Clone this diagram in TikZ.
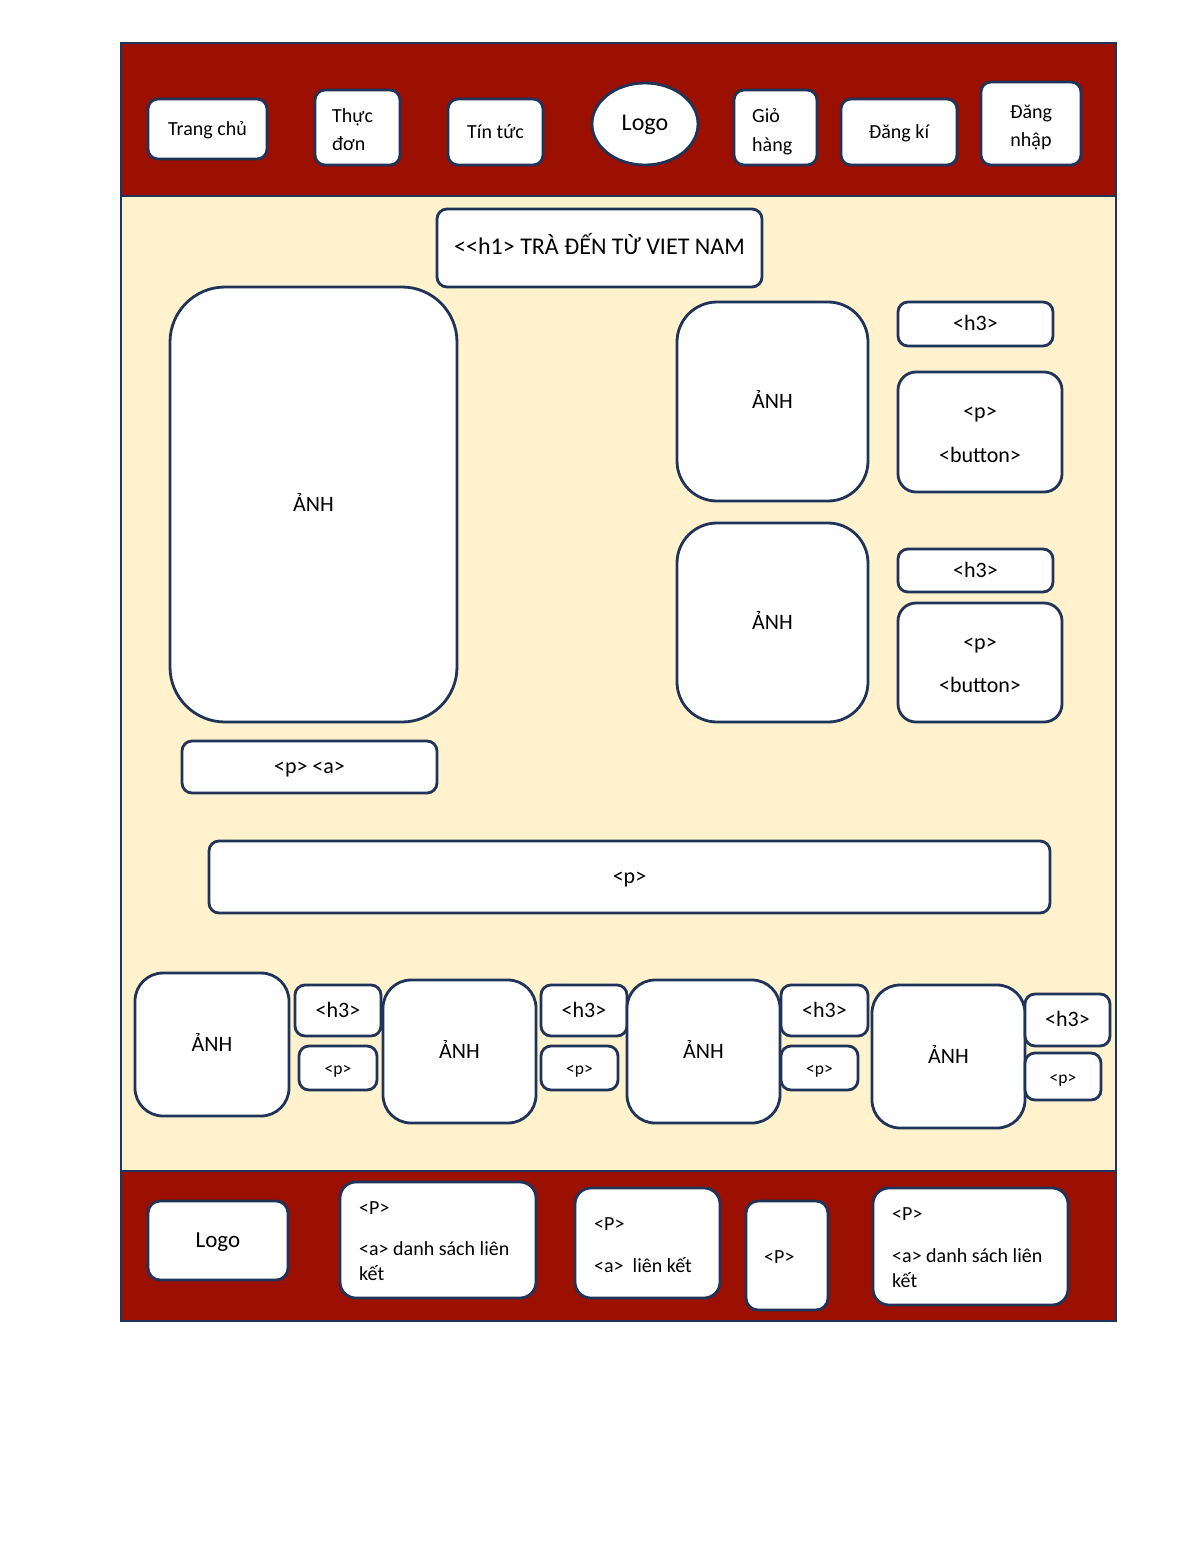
\documentclass[tikz,border=0pt]{standalone}
\usepackage{fontspec}
\setmainfont{Carlito}
\usetikzlibrary{shapes.geometric}
\definecolor{navy}{HTML}{1F3458}
\definecolor{maroon}{HTML}{9B1000}
\definecolor{cream}{HTML}{FFF2CC}
\tikzset{
  box/.style={draw=navy, line width=2.8pt, fill=white, rounded corners=10pt, inner sep=0pt, align=center, text height=2.9ex, text depth=0pt},
  img/.style={box, rounded corners=40pt, font=\fontsize{22}{26}\selectfont},
  nav/.style={box, font=\fontsize{20}{28}\selectfont},
  tag/.style={box, font=\fontsize{22}{26}\selectfont},
  small/.style={box, font=\fontsize{17.5}{20}\selectfont},
  foot/.style={box, rounded corners=16pt, font=\fontsize{20}{25}\selectfont},
  line/.style={inner sep=0pt, anchor=mid west, yshift=-5pt},
  cline/.style={inner sep=0pt, anchor=mid, yshift=-5pt},
}
\begin{document}
\begin{tikzpicture}[x=1pt,y=-1pt]
\useasboundingbox (0,0) rectangle (1200,1553);
% bands
\draw[navy, line width=2.5pt, fill=maroon] (121,43) rectangle (1116,196);
\draw[navy, line width=2.5pt, fill=cream] (121,196) rectangle (1116,1171);
\draw[navy, line width=2.5pt, fill=maroon] (121,1171) rectangle (1116,1321);
% header
\node[nav, minimum width=119pt, minimum height=60pt] (home) at (207.5,129) {Trang chủ};
\node[nav, minimum width=85pt, minimum height=75pt] (menu) at (357.5,127.5) {};
\node[line, font=\fontsize{20}{24}\selectfont] (menu1) at (332,115) {Thực};
\node[line, font=\fontsize{20}{24}\selectfont] (menu2) at (332,143) {đơn};
\node[nav, minimum width=95pt, minimum height=66pt] (news) at (495.5,132) {Tín tức};
\node[draw=navy, line width=2.8pt, fill=white, ellipse, minimum width=106pt, minimum height=82pt, inner sep=0pt, text height=2.9ex, text depth=0pt, font=\fontsize{24}{26}\selectfont] (logo) at (645,124) {Logo};
\node[nav, minimum width=83pt, minimum height=75pt] (cart) at (775.5,127.5) {};
\node[line, font=\fontsize{20}{24}\selectfont] (cart1) at (752,115) {Giỏ};
\node[line, font=\fontsize{20}{24}\selectfont] (cart2) at (752,144) {hàng};
\node[nav, minimum width=116pt, minimum height=66pt] (reg) at (899,132) {Đăng kí};
\node[nav, minimum width=100pt, minimum height=83pt] (login) at (1031,123.5) {};
\node[cline, font=\fontsize{20}{24}\selectfont] (login1) at (1031,111) {Đăng};
\node[cline, font=\fontsize{20}{24}\selectfont] (login2) at (1031,139) {nhập};
% body
\node[box, minimum width=325pt, minimum height=78pt, font=\fontsize{24}{28}\selectfont] (h1) at (599.5,248) {<{}<h1> TRÀ ĐẾN TỪ VIET NAM};
\node[img, rounded corners=55pt, minimum width=287pt, minimum height=435pt] (bigimg) at (313.5,504.5) {ẢNH};
\node[tag, minimum width=255pt, minimum height=52pt] (pa) at (309.5,767) {<p> <a>};
\node[img, minimum width=191pt, minimum height=199pt] (img1) at (772.5,401.5) {ẢNH};
\node[tag, minimum width=155pt, minimum height=44pt] (h3a) at (975.5,324) {<h3>};
\node[tag, rounded corners=18pt, minimum width=164pt, minimum height=120pt] (pb1) at (980,432) {};
\node[cline, font=\fontsize{22}{26}\selectfont] (pb1a) at (980,411) {<p>};
\node[cline, font=\fontsize{22}{26}\selectfont] (pb1b) at (980,455) {<button>};
\node[img, minimum width=191pt, minimum height=199pt] (img2) at (772.5,622.5) {ẢNH};
\node[tag, minimum width=155pt, minimum height=43pt] (h3b) at (975.5,570.5) {<h3>};
\node[tag, rounded corners=18pt, minimum width=164pt, minimum height=119pt] (pb2) at (980,662.5) {};
\node[cline, font=\fontsize{22}{26}\selectfont] (pb2a) at (980,642) {<p>};
\node[cline, font=\fontsize{22}{26}\selectfont] (pb2b) at (980,685) {<button>};
\node[tag, minimum width=841pt, minimum height=72pt] (pwide) at (629.5,877) {<p>};
% bottom row
\node[img, rounded corners=28pt, minimum width=154pt, minimum height=143pt] (c1) at (212,1044.5) {ẢNH};
\node[tag, minimum width=86pt, minimum height=51pt] (c1h) at (338,1010.5) {<h3>};
\node[small, minimum width=78pt, minimum height=44pt] (c1p) at (338,1068) {<p>};
\node[img, rounded corners=28pt, minimum width=153pt, minimum height=143pt] (c2) at (459.5,1051.5) {ẢNH};
\node[tag, minimum width=86pt, minimum height=51pt] (c2h) at (584,1010.5) {<h3>};
\node[small, minimum width=77pt, minimum height=44pt] (c2p) at (579.5,1068) {<p>};
\node[img, rounded corners=28pt, minimum width=153pt, minimum height=143pt] (c3) at (703.5,1051.5) {ẢNH};
\node[tag, minimum width=87pt, minimum height=51pt] (c3h) at (824.5,1010.5) {<h3>};
\node[small, minimum width=77pt, minimum height=44pt] (c3p) at (819.5,1068) {<p>};
\node[img, rounded corners=28pt, minimum width=153pt, minimum height=143pt] (c4) at (948.5,1056.5) {ẢNH};
\node[tag, minimum width=85pt, minimum height=52pt] (c4h) at (1067.5,1020) {<h3>};
\node[small, minimum width=76pt, minimum height=47pt] (c4p) at (1063,1076.5) {<p>};
% footer
\node[foot, rounded corners=12pt, minimum width=140pt, minimum height=79pt, font=\fontsize{23}{25}\selectfont] (flogo) at (218,1240.5) {Logo};
\node[foot, minimum width=196pt, minimum height=116pt] (f2) at (438,1240) {};
\node[line, font=\fontsize{20}{25}\selectfont] (f2a) at (359,1207) {<P>};
\node[line, font=\fontsize{20}{25}\selectfont] (f2b) at (359,1248) {<a> danh sách liên};
\node[line, font=\fontsize{20}{25}\selectfont] (f2c) at (359,1273) {kết};
\node[foot, minimum width=145pt, minimum height=110pt] (f3) at (647.5,1243) {};
\node[line, font=\fontsize{20}{25}\selectfont] (f3a) at (594,1223) {<P>};
\node[line, font=\fontsize{20}{25}\selectfont] (f3b) at (594,1265) {<a>\ \ liên kết};
\node[foot, rounded corners=12pt, minimum width=82pt, minimum height=109pt] (f4) at (787,1255.5) {};
\node[line, font=\fontsize{20}{25}\selectfont] (f4a) at (764,1256) {<P>};
\node[foot, minimum width=195pt, minimum height=117pt] (f5) at (970.5,1246.5) {};
\node[line, font=\fontsize{20}{25}\selectfont] (f5a) at (892,1213) {<P>};
\node[line, font=\fontsize{20}{25}\selectfont] (f5b) at (892,1255) {<a> danh sách liên};
\node[line, font=\fontsize{20}{25}\selectfont] (f5c) at (892,1280) {kết};
\end{tikzpicture}
\end{document}
